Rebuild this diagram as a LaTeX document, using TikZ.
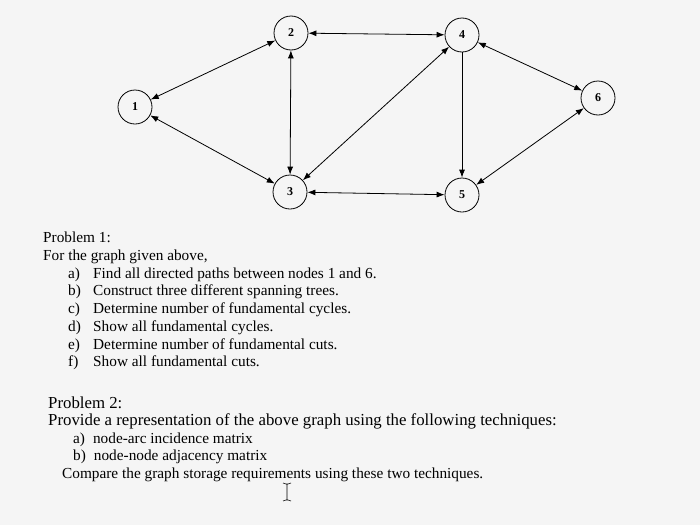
\documentclass[tikz,border=0pt]{standalone}
\usepackage{fontspec}
\setmainfont{Liberation Serif}
\begin{document}
\begin{tikzpicture}[x=1pt,y=-1pt,
  vtx/.style={circle,draw,line width=0.8pt,minimum size=34pt,inner sep=0pt,font=\fontsize{12}{12}\selectfont\bfseries},
  edge/.style={line width=0.8pt,{Latex[length=8pt,width=6pt]}-{Latex[length=8pt,width=6pt]}},
  oneway/.style={line width=0.8pt,-{Latex[length=8pt,width=6pt]}},
  txt/.style={anchor=base west,inner sep=0pt,font=\fontsize{15.3}{15}\selectfont},
  txtb/.style={anchor=base west,inner sep=0pt,font=\fontsize{16.8}{16}\selectfont}]
\usetikzlibrary{arrows.meta}
\fill[gray!8] (0,0) rectangle (700,525);
\useasboundingbox (0,0) rectangle (700,525);
\node[vtx] (n1) at (135,107) {1};
\node[vtx] (n2) at (291,33) {2};
\node[vtx] (n3) at (290,192) {3};
\node[vtx] (n4) at (462,35) {4};
\node[vtx] (n5) at (462,195) {5};
\node[vtx] (n6) at (598,98) {6};
\draw[edge] (n1) -- (n2);
\draw[edge] (n1) -- (n3);
\draw[edge] (n2) -- (n4);
\draw[edge] (n2) -- (n3);
\draw[edge] (n3) -- (n4);
\draw[edge] (n3) -- (n5);
\draw[edge] (n4) -- (n6);
\draw[edge] (n5) -- (n6);
\draw[oneway] (n4) -- (n5);
\node[txt] (p1) at (43,242) {Problem 1:};
\node[txt] (p1b) at (43,260) {For the graph given above,};
\foreach \l/\t/\y in {a)/Find all directed paths between nodes 1 and 6./278,
  b)/Construct three different spanning trees./295,
  c)/Determine number of fundamental cycles./313,
  d)/Show all fundamental cycles./331,
  e)/Determine number of fundamental cuts./349,
  f)/Show all fundamental cuts./366}{
  \node[txt] at (68,\y) {\l};
  \node[txt] at (93,\y) {\t};
}
\node[txtb] (p2) at (48,408) {Problem 2:};
\node[txtb] (p2b) at (48,425) {Provide a representation of the above graph using the following techniques:};
\node[txt] (p2a) at (73,443) {a)\hspace{8pt}node-arc incidence matrix};
\node[txt] (p2c) at (73,460) {b)\hspace{8pt}node-node adjacency matrix};
\node[txt] (p2d) at (62,478) {Compare the graph storage requirements using these two techniques.};
\draw[line width=0.6pt] (287,484) -- (287,500) (283,483) -- (286,484) -- (288,484) -- (291,483) (283,501) -- (286,500) -- (288,500) -- (291,501);
\end{tikzpicture}
\end{document}
